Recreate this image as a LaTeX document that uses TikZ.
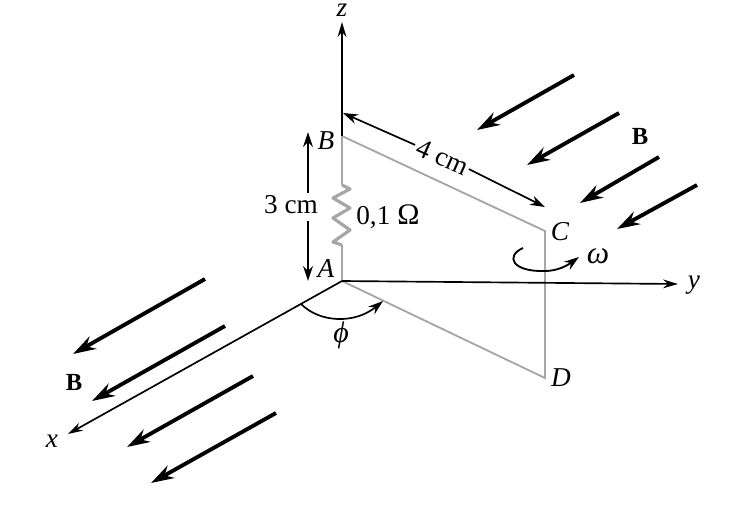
\documentclass[tikz,border=0pt]{standalone}
\usepackage{fontspec}
\setmainfont{Liberation Serif}
\usetikzlibrary{arrows.meta}
\begin{document}
\begin{tikzpicture}[x=0.02cm,y=-0.02cm,
  axisline/.style={black,line width=0.95pt,-{Stealth[length=8.5pt,width=5pt]}},
  loopline/.style={gray!70,line width=1.05pt},
  resline/.style={gray!70,line width=1.8pt,line join=round},
  dimline/.style={black,line width=0.95pt,-{Stealth[length=8.5pt,width=5.6pt]}},
  fieldline/.style={black,line width=2.2pt,-{Stealth[length=13pt,width=8pt]}},
  lab/.style={font=\fontsize{15.5}{16}\selectfont\itshape,inner sep=0pt},
  txt/.style={font=\fontsize{15.5}{16}\selectfont,inner sep=0pt},
  bvec/.style={font=\fontsize{14}{16}\selectfont\bfseries,inner sep=0pt}]
\useasboundingbox (0,0) rectangle (752,505);
\fill[white] (0,0) rectangle (752,505);
% points
\coordinate (A) at (342,281);
\coordinate (B) at (342,136);
\coordinate (C) at (545,231);
\coordinate (D) at (545,378);
\coordinate (ztip) at (342,22);
\coordinate (ytip) at (678,284);
\coordinate (xtip) at (68,434);
\coordinate (dimtop) at (343,113);
\coordinate (dimright) at (545,207);
\coordinate (rtop) at (342,185);
\coordinate (rbot) at (342,245);
\coordinate (htop) at (308,132);
\coordinate (hbot) at (308,281);
% loop
\draw[loopline] (rbot) -- (A);
\draw[loopline] (rtop) -- (B) -- (C) -- (D) -- (A);
\draw[resline] (rtop) -- (350,189) -- (333,198) -- (350,208) -- (333,218) -- (350,230) -- (333,242) -- (rbot);
% axes
\draw[axisline] (A) -- (ytip);
\draw[axisline] (A) -- (xtip);
\draw[axisline] (B) -- (ztip);
% labels
\node[lab] (lz) at (342,10) {z};
\node[lab] (lB) at (326,141) {B};
\node[lab] (lA) at (326,269) {A};
\node[lab] (lC) at (560,232) {C};
\node[lab] (lD) at (561,378) {D};
\node[lab] (ly) at (694,285) {y};
\node[lab] (lx) at (52,441) {x};
\node[lab,font=\fontsize{17}{18}\selectfont\itshape] (lphi) at (341,335) {ϕ};
\node[lab,font=\fontsize{18}{18}\selectfont\itshape] (lomega) at (598,256) {ω};
\node[txt] (h3) at (291,205) {3 cm};
\node[txt] (r01) at (388,217) {0,1\hspace{4pt}{\fontsize{17}{18}\selectfont Ω}};
\node[txt,rotate=-24] (w4) at (443,157) {4 cm};
\node[bvec] (b1) at (640,136) {B};
\node[bvec] (b2) at (74,382) {B};
% dimensions
\draw[dimline] (w4.west) ++(-3,-1) -- (dimtop);
\draw[dimline] (w4.east) ++(1,1) -- (dimright);
\draw[dimline] (h3.north -| htop) ++(0,-3) -- (htop);
\draw[dimline] (h3.south -| hbot) ++(0,6) -- (hbot);
% rotation arcs
\coordinate (ph1) at (301,304);
\coordinate (ph2) at (383,301);
\coordinate (om1) at (523,248);
\coordinate (om2) at (579,257);
\draw[dimline] (ph1) .. controls (320,323) and (355,324) .. (ph2);
\draw[dimline,line width=1.05pt] (om1) .. controls (505,256) and (512,272) .. (545,271) .. controls (558,271) and (568,265) .. (om2);
% field arrows
\coordinate (f1s) at (574,75);  \coordinate (f1e) at (477,130);
\coordinate (f2s) at (619,113); \coordinate (f2e) at (527,165);
\coordinate (f3s) at (659,157); \coordinate (f3e) at (580,203);
\coordinate (f4s) at (697,185); \coordinate (f4e) at (617,229);
\coordinate (f5s) at (205,279); \coordinate (f5e) at (73,354);
\coordinate (f6s) at (225,326); \coordinate (f6e) at (92,401);
\coordinate (f7s) at (253,376); \coordinate (f7e) at (127,447);
\coordinate (f8s) at (276,413); \coordinate (f8e) at (151,483);
\foreach \i in {1,...,8} \draw[fieldline] (f\i s) -- (f\i e);
\end{tikzpicture}
\end{document}
